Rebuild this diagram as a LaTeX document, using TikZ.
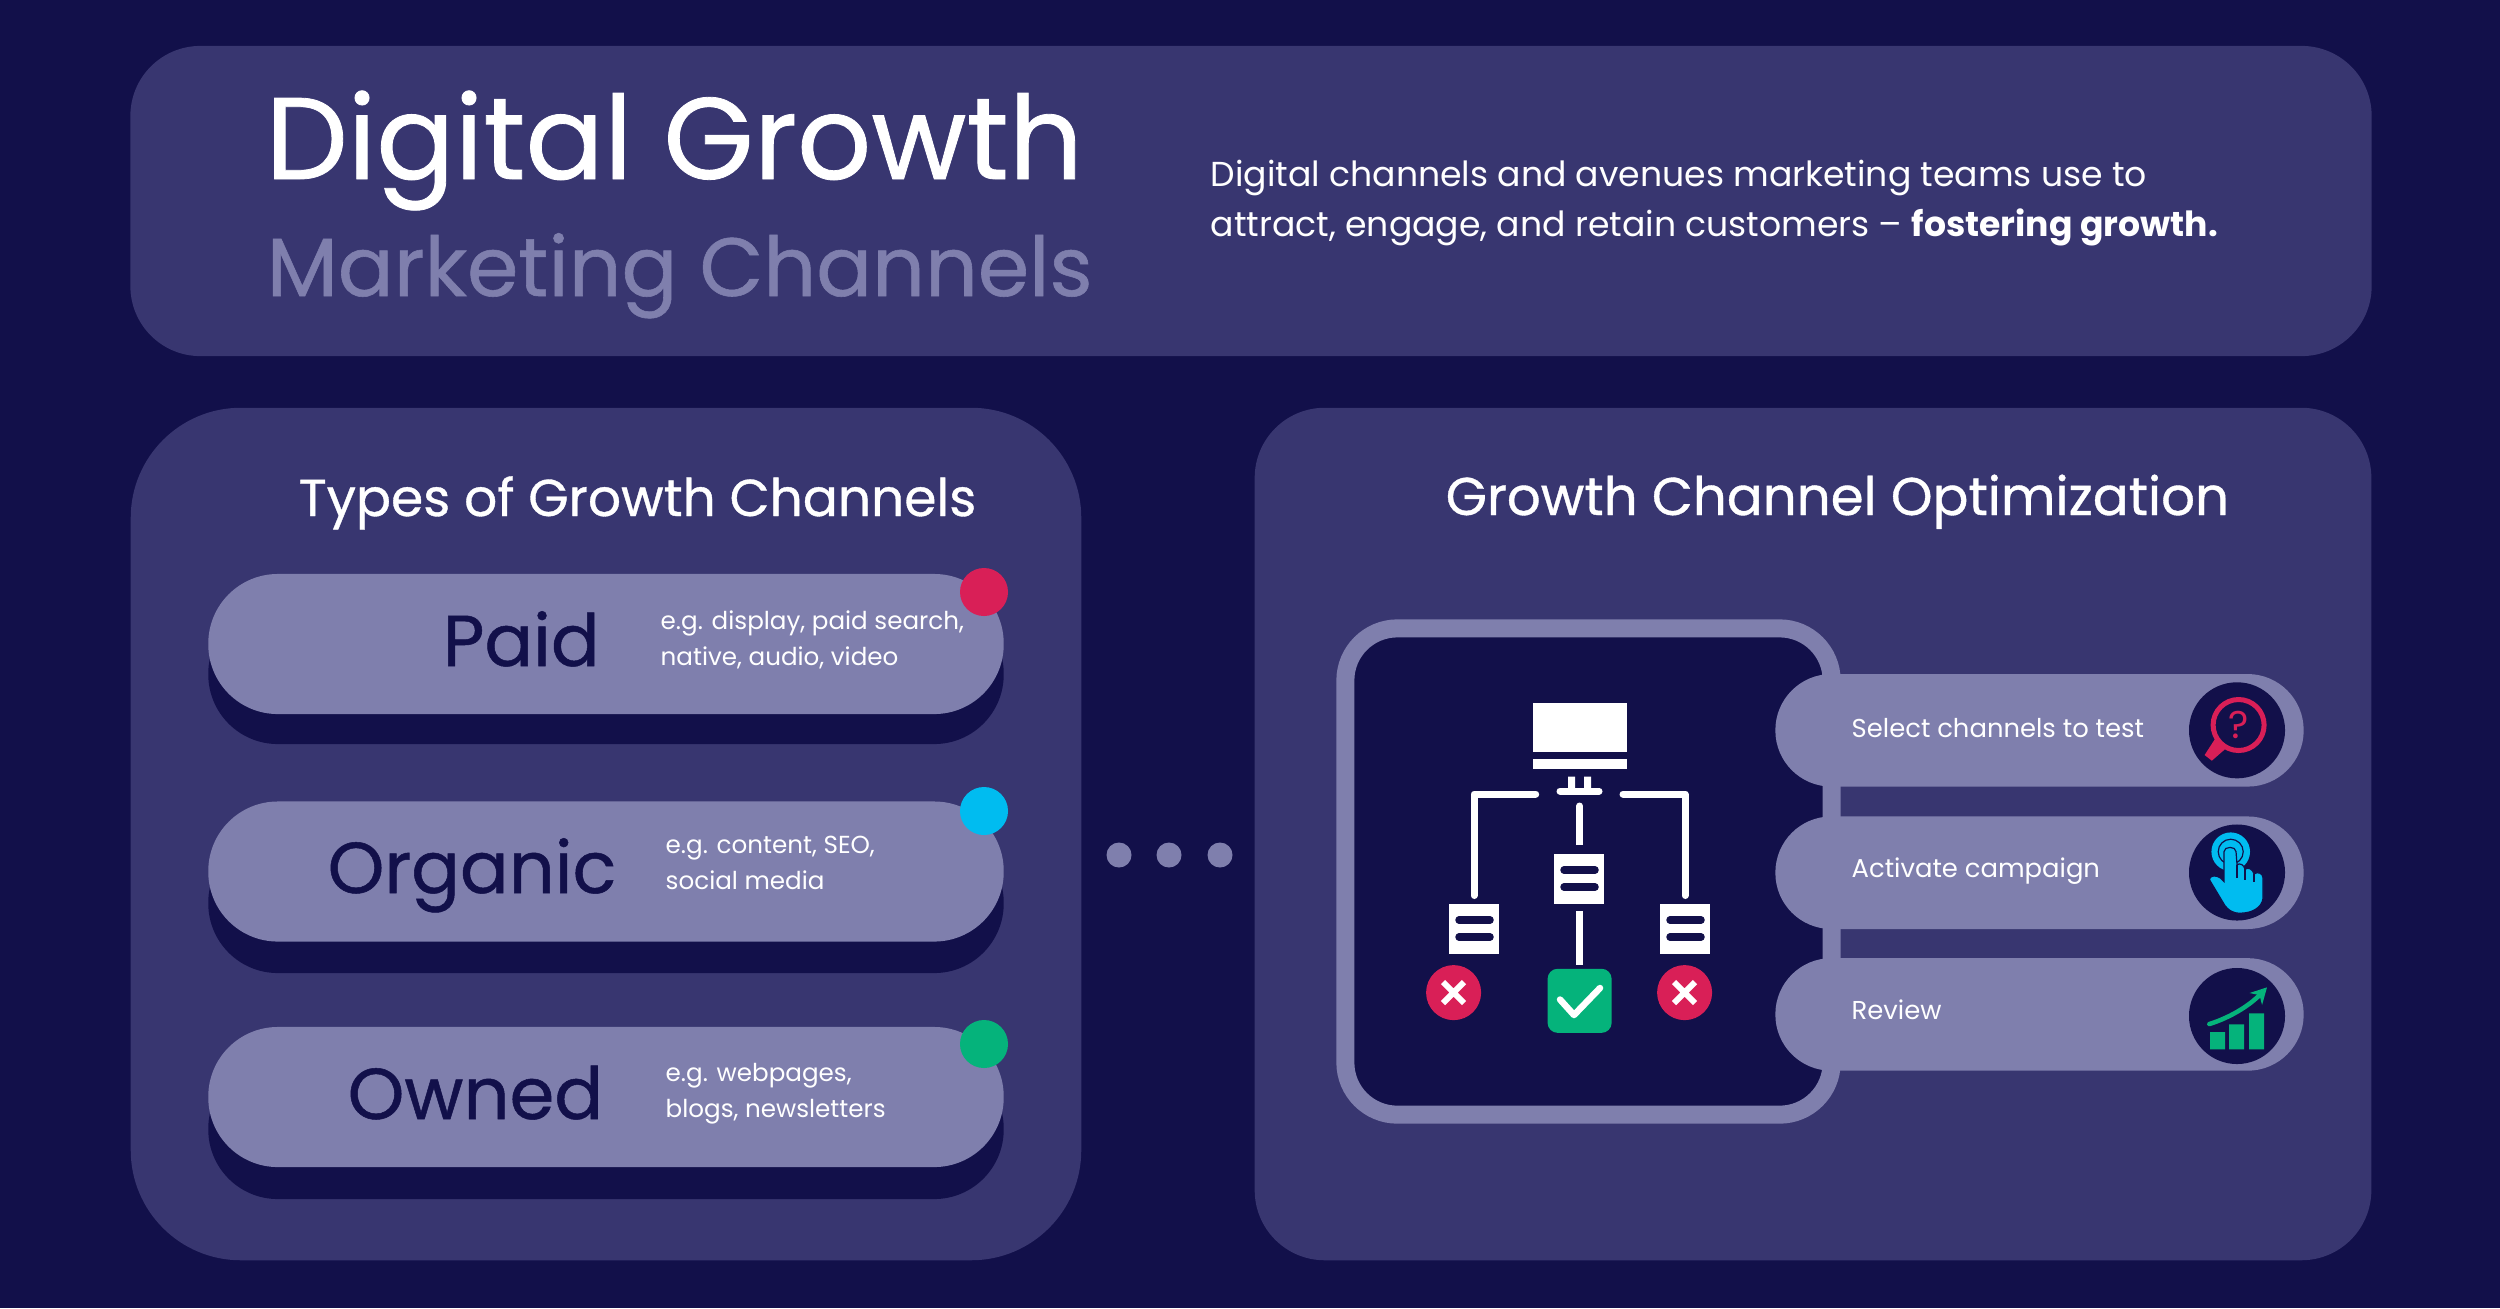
\documentclass[tikz,border=0pt]{standalone}
\usepackage{xcolor}
\usepackage{fontspec}
\usetikzlibrary{arrows.meta}
\setmainfont{Poppins}
\newfontfamily\mediumface[FakeBold=0.7]{Poppins}
\definecolor{bgnavy}{HTML}{12104A}
\definecolor{panelblue}{HTML}{383670}
\definecolor{pilllilac}{HTML}{7F7FAD}
\definecolor{dotred}{HTML}{D91F57}
\definecolor{dotcyan}{HTML}{00BCF0}
\definecolor{dotgreen}{HTML}{05B37B}
\newcommand{\sizedfont}[1]{\fontsize{#1}{#1}\selectfont}
\tikzset{
  box/.style={rectangle,inner sep=0pt,outer sep=0pt},
  panel/.style={box,fill=panelblue,rounded corners=0.7cm},
  channelpill/.style={box,fill=pilllilac,rounded corners=0.695cm,minimum width=7.95cm,minimum height=1.4cm},
  channelshadow/.style={box,fill=bgnavy,rounded corners=0.695cm,minimum width=7.95cm,minimum height=1.4cm},
  steppill/.style={box,fill=pilllilac,rounded corners=0.56cm,minimum width=5.28cm,minimum height=1.125cm},
  stepdisc/.style={circle,fill=bgnavy,inner sep=0pt,outer sep=0pt,minimum size=0.96cm},
  statusdot/.style={circle,inner sep=0pt,outer sep=0pt,minimum size=0.48cm},
  gapdot/.style={circle,fill=pilllilac,inner sep=0pt,outer sep=0pt,minimum size=0.25cm},
  docbox/.style={box,fill=white,minimum width=0.5cm,minimum height=0.5cm},
  docslot/.style={line width=0.075cm,bgnavy,line cap=round},
  link/.style={line width=0.07cm,white},
  linkend/.style={line width=0.07cm,white,line cap=round},
  chname/.style={anchor=base west,inner sep=0pt,text=bgnavy,font=\mediumface\sizedfont{20.5}},
  chnote/.style={anchor=base west,inner sep=0pt,text=white,align=left,font=\fontsize{7}{10}\selectfont},
  steplabel/.style={anchor=base west,inner sep=0pt,text=white,font=\sizedfont{7.35}},
  intro/.style={anchor=base west,inner sep=0pt,text=white,font=\sizedfont{9.85}}
}
\begin{document}
\begin{tikzpicture}[x=0.01cm,y=-0.01cm]
\useasboundingbox[fill=bgnavy] (0,0) rectangle (2500,1308);
\node[panel,minimum width=22.4cm,minimum height=3.1cm] (header) at (1251,201) {};
\node[panel,rounded corners=1.1cm,minimum width=9.5cm,minimum height=8.52cm] (typespanel) at (606,834) {};
\node[panel,minimum width=11.16cm,minimum height=8.52cm] (optpanel) at (1813,834) {};
\node[anchor=base west,inner sep=0pt,text=white,font=\mediumface\sizedfont{33}] (title) at (265,179) {Digital Growth};
\node[anchor=base west,inner sep=0pt,text=pilllilac,font=\mediumface\sizedfont{23.5}] (subtitle) at (266,296) {Marketing Channels};
\node[intro] (introa) at (1210,186) {Digital channels and avenues marketing teams use to};
\node[intro] (introb) at (1210,236) {attract, engage, and retain customers -- \textbf{fostering growth.}};
\node[anchor=base west,inner sep=0pt,text=white,font=\mediumface\sizedfont{14.75}] (typeshead) at (298,516) {Types of Growth Channels};
\node[anchor=base west,inner sep=0pt,text=white,font=\mediumface\sizedfont{15.1}] (opthead) at (1445,515) {Growth Channel Optimization};

\node[channelshadow] (paidshadow) at (606,674) {};
\node[channelpill] (paid) at (606,644) {};
\node[channelshadow] (organicshadow) at (606,903) {};
\node[channelpill] (organic) at (606,871.5) {};
\node[channelshadow] (ownedshadow) at (606,1129) {};
\node[channelpill] (owned) at (606,1097) {};
\node[statusdot,fill=dotred] (paiddot) at (984,592) {};
\node[statusdot,fill=dotcyan] (organicdot) at (984,811) {};
\node[statusdot,fill=dotgreen] (owneddot) at (984,1044) {};
\node[chname] (paidname) at (442,666) {Paid};
\node[chname] (organicname) at (327,893) {Organic};
\node[chname] (ownedname) at (347,1119) {Owned};
\node[chnote] (paidnote) at (660,665) {e.g. display, paid search,\\native, audio, video};
\node[chnote] (organicnote) at (665,889) {e.g. content, SEO,\\social media};
\node[chnote] (ownednote) at (665,1117) {e.g. webpages,\\blogs, newsletters};

\node[gapdot] (gapa) at (1119,855) {};
\node[gapdot] (gapb) at (1169,855) {};
\node[gapdot] (gapc) at (1220,855) {};

\node[box,fill=bgnavy,draw=pilllilac,line width=0.18cm,rounded corners=0.52cm,minimum width=4.86cm,minimum height=4.86cm] (frame) at (1588.5,871.5) {};
\node[steppill] (selectpill) at (2039.5,730.3) {};
\node[steppill] (activatepill) at (2039.5,872.7) {};
\node[steppill] (reviewpill) at (2039.5,1014.4) {};
\node[stepdisc] (selectdisc) at (2237,730.3) {};
\node[stepdisc] (activatedisc) at (2237,872.5) {};
\node[stepdisc] (reviewdisc) at (2237,1016) {};
\node[steplabel] (selectlabel) at (1851,737.3) {Select channels to test};
\node[steplabel] (activatelabel) at (1851,877) {Activate campaign};
\node[steplabel] (reviewlabel) at (1851,1019) {Review};

\node[box,fill=white,minimum width=0.94cm,minimum height=0.49cm] (screen) at (1579.6,727.5) {};
\node[box,fill=white,minimum width=0.94cm,minimum height=0.096cm] (screenbar) at (1579.6,764.2) {};
\fill[white] (1568,776.7) rectangle (1575,789) (1584,776.7) rectangle (1591,789);
\draw[white,line width=0.07cm,line cap=round] (1560,791) -- (1599,791);
\node[docbox] (doccentre) at (1579.3,878.5) {};
\node[docbox] (docleft) at (1474,928.5) {};
\node[docbox] (docright) at (1685.2,928.5) {};
\coordinate (leftstart) at (1535.7,794);
\coordinate (rightstart) at (1623,794);
\coordinate (leftdrop) at (1474,895.5);
\coordinate (rightdrop) at (1685,895.5);
\coordinate (centretop) at (1579.6,806);
\coordinate (centreend) at (1579.6,845);
\coordinate (lowertop) at (1579.6,911);
\coordinate (lowerend) at (1579.6,965);
\draw[linkend,line join=round] (leftstart) -| (leftdrop);
\draw[linkend,line join=round] (rightstart) -| (rightdrop);
\draw[link] (centreend) -- (centretop);
\draw[linkend] (centretop) -- ++(0,3);
\draw[link] (lowertop) -- (lowerend);
\draw[docslot] (1564,870) -- (1595,870) (1564,887) -- (1595,887);
\draw[docslot] (1459,920) -- (1490,920) (1459,937) -- (1490,937);
\draw[docslot] (1670,920) -- (1701,920) (1670,937) -- (1701,937);

\node[statusdot,fill=dotred,minimum size=0.55cm] (crossleft) at (1453.6,992.6) {};
\node[statusdot,fill=dotred,minimum size=0.55cm] (crossright) at (1684.6,992.6) {};
\draw[white,line width=0.06cm] (1443,982) -- (1464,1003) (1464,982) -- (1443,1003);
\draw[white,line width=0.06cm] (1674,982) -- (1695,1003) (1695,982) -- (1674,1003);
\node[box,fill=dotgreen,rounded corners=0.1cm,minimum width=0.64cm,minimum height=0.64cm] (checkbox) at (1579.6,1000.8) {};
\draw[white,line width=0.065cm,line cap=round,line join=round] (1560,999.5) -- (1574,1015) -- (1600,988);

\draw[dotred,line width=0.05cm] (2238.6,725) circle (25.5);
\fill[dotred] (2204.6,755) -- (2211.8,760.7) -- (2226,748.3) -- (2215.4,738.3) -- cycle;
\node[inner sep=0pt,text=dotred,font=\sizedfont{11}] (askmark) at (2238.5,725) {?};

\fill[dotcyan] (2230.7,851.7) circle (19.3);
\draw[bgnavy,line width=0.012cm] (2230.7,851.7) circle (12.5);
\fill[dotcyan,draw=bgnavy,line width=0.012cm] (2211,876.8) .. controls (2214,874.9) and (2220,875.9) .. (2224,881.5)
  -- (2224,851.6) .. controls (2224,846) and (2236,846) .. (2236,851.6) -- (2237,864.7)
  .. controls (2240,862.8) and (2244,864.7) .. (2245,869.3) .. controls (2248,866.5) and (2253,869.3) .. (2254,874)
  .. controls (2257,871.2) and (2263,873) .. (2263,877.7) -- (2263,898.3)
  .. controls (2262,907.6) and (2252,913.2) .. (2240,913.2) .. controls (2232,913.2) and (2228,909.5) .. (2225,905.7)
  -- (2211,882.4) .. controls (2209,879.6) and (2209,877.7) .. (2211,876.8) -- cycle;
\draw[bgnavy,line width=0.012cm] (2237,864.7) -- (2237,878) (2245,869.3) -- (2245,880) (2254,874) -- (2254,882);

\fill[dotgreen] (2210,1032) rectangle (2225,1049.3) (2229,1024.3) rectangle (2244,1049.3) (2249,1013.3) rectangle (2264,1049.3);
\draw[dotgreen,line width=0.045cm,line cap=round,-{Stealth[length=0.16cm,width=0.17cm]}] (2209.3,1024) .. controls (2232,1017) and (2251,1004) .. (2267,987.3);
\end{tikzpicture}
\end{document}
